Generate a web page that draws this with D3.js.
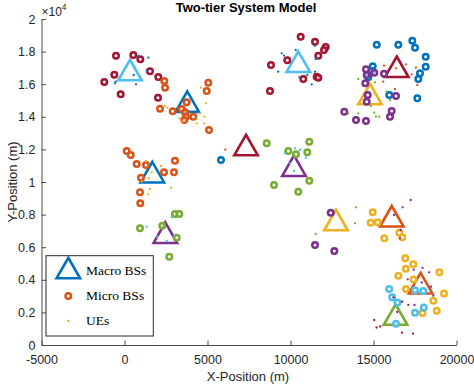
<!DOCTYPE html>
<html><head><meta charset="utf-8">
<script src="https://cdn.jsdelivr.net/npm/d3@7"></script>
<style>body{margin:0;background:#fff}svg{display:block}</style>
</head><body>
<svg id="chart" width="474" height="387"></svg>
<script>
// MATLAB default colour order
const palette = ["#0072BD","#D95319","#EDB120","#7E2F8E","#77AC30","#4DBEEE","#A2142F"];
const xTicks = [-5000,0,5000,10000,15000,20000];
const yTicks = [0,2000,4000,6000,8000,10000,12000,14000,16000,18000,20000];
const legendLabels = ["Macro BSs","Micro BSs","UEs"];

// [x, y, colour index]
const macroBS = [
  [330,16870,5],[3780,14930,0],[10470,17380,5],[16400,17070,6],[14790,15400,2],
  [1675,10600,0],[7320,12270,6],[10210,11000,3],[2460,6890,3],[12740,7670,2],
  [16100,7900,1],[17840,3790,1],[16330,1870,4]
];
const microBS = [
  // cell 1
  [-512,17749,6],[530,17792,6],[952,17528,6],[-614,16583,6],[-1217,16135,6],[-229,15381,6],[1536,16792,6],[2036,16442,6],[2018,15172,6],
  // cell 2
  [2398,16197,1],[2440,15786,1],[5048,16092,1],[4952,15583,1],[3747,14890,1],[2139,14497,1],[2904,14338,1],[3446,14479,1],[3645,14276,1],[3705,14006,1],[3602,13804,1],[4145,14006,1],[5090,13190,1],
  // cell 3
  [10614,18914,6],[11476,18608,6],[12120,18283,6],[12018,18098,6],[11675,17749,6],[9807,17467,6],[8825,17178,6],[10771,16319,6],[11578,16460,6],[11675,16399,6],[8765,15583,6],
  // cell 4
  [15193,18424,0],[16494,18424,0],[17337,18669,0],[17500,18240,0],[18145,17688,0],[18145,17074,0],[17801,16669,0],[17699,16319,0],[14952,17098,0],[14892,16810,0],[14687,16424,0],[15952,15338,0],[17639,15135,0],
  // cell 5
  [14548,16914,3],[14590,16565,3],[15048,16706,3],[15633,16645,3],[14506,16056,3],[14651,15338,3],[14590,14927,3],[16355,15276,3],[13241,14313,3],[16096,14356,3],[15994,14006,3],[13946,13804,3],[14548,13743,3],
  // cell 6
  [132,11902,1],[374,11657,1],[735,11105,1],[1295,11043,1],[3042,11307,1],[2380,10595,1],[2982,10595,1],[994,10264,1],[934,9368,1],[952,8694,1],
  // cell 7
  [5813,11350,0],
  // cell 8
  [8566,12375,4],[11133,12473,4],[9868,11902,4],[10331,11700,4],[11012,11822,4],[9006,9816,4],[11133,10080,4],[10470,9405,4],
  // cell 9
  [3042,8037,4],[3301,8037,4],[934,7159,4],[2277,7319,4],[3145,6583,4],[2699,5417,4],
  // cell 10
  [12422,8117,3],[11476,6135,3],[12639,5767,3],
  // cell 11
  [14952,8141,2],[14831,7503,2],[15253,7528,2],[16554,6890,2],[16735,6608,2],[15651,6546,2],
  // cell 12
  [16916,5319,2],[17398,4957,2],[16946,4675,2],[18964,4460,2],[16494,4252,2],[17410,4012,2],[16958,3436,2],[19247,3160,2],[18602,2718,2],[18807,2104,2],[17952,1963,2],
  // cell 13
  [15946,3436,5],[16127,2927,5],[16446,2608,5],[17500,3356,5],[17994,3313,5],[18030,2301,5],[17500,1982,5],[16355,1307,5]
];
const userEq = [
  [1434,17626,0],[831,17730,0],[554,16565,0],[693,15994,0],[-572,16056,0],[-530,16154,0],[1337,16810,0],
  [4608,15786,2],[4910,14829,2],[2440,14663,2],[2578,14559,2],[4548,14215,2],[4807,14006,2],[4349,13602,2],[4807,13602,2],[3301,13908,2],[3446,13700,2],
  [9470,17896,0],[9608,17749,0],[10313,18098,0],[11476,18362,0],[11518,17546,0],[9265,16767,0],[10530,16424,0],[11277,15994,0],[11476,16767,0],[11012,16565,0],
  [15633,17135,1],[16355,16976,1],[16958,17221,1],[17560,17013,1],[15590,16154,1],[16295,15706,1],[17639,15951,1],[17302,16608,1],
  [6073,11982,1],
  [14084,16319,4],[15090,16117,4],[15795,15540,4],[15994,15031,4],[14831,14663,4],[15048,14252,4],[15151,14006,4],[15349,14006,4],[13482,14215,4],[14084,14215,4],
  [1295,11289,2],[2199,10982,2],[1639,10595,2],[1476,10227,2],[1036,10019,2],[2801,9651,2],[1536,9571,2],[1434,9246,2],
  [9669,11761,5],[10271,12068,5],[10572,11963,5],[10934,11491,5],[9970,11147,5],[10211,10675,5],
  [2843,7835,5],[1337,7258,5],[3000,6706,5],[2542,6381,5],[1976,6644,5],
  [13946,8448,4],[13886,7467,4],[11518,6810,4],
  [17241,8896,3],[16759,8448,3],[16235,7976,3],[16639,7055,3],[16596,6546,3],
  [17952,4737,3],[18356,4460,3],[17422,4620,3],[17060,4031,3],[17904,3835,3],[18464,3577,3],[18602,3025,3],[17097,2454,3],[17470,2454,3],
  [15042,1534,6],[15181,1074,6],[15404,1135,6],[16717,755,6],[17380,694,6],[16434,2025,6],[16193,2927,6],[16717,2657,6]
];

const svg = d3.select("#chart");
const L = 41.5, R = 456.5, T = 19, B = 345;
const x = d3.scaleLinear().domain([-5000,20000]).range([L,R]);
const y = d3.scaleLinear().domain([0,20000]).range([B,T]);
const axisCol = "#4a4a4a", textCol = "#262626";
const font = "'Liberation Sans', Arial, Helvetica, sans-serif";

const tri = (w,h) => `M0,${-h/2}L${w/2},${h/2}L${-w/2},${h/2}Z`;
const TW = 23.5, TH = 20.5;
const MR = 2.75, MSW = 2.5;

// marks
const plot = svg.append("g");
plot.selectAll("path.macro").data(macroBS).join("path")
  .attr("class","macro")
  .attr("d", tri(TW,TH))
  .attr("transform", d => `translate(${x(d[0])},${y(d[1])})`)
  .attr("fill","none").attr("stroke", d => palette[d[2]])
  .attr("stroke-width",2.6).attr("stroke-linejoin","miter");
plot.selectAll("circle.micro").data(microBS).join("circle")
  .attr("class","micro")
  .attr("cx", d => x(d[0])).attr("cy", d => y(d[1])).attr("r",MR)
  .attr("fill","#fff").attr("fill-opacity",0.55)
  .attr("stroke", d => palette[d[2]]).attr("stroke-width",MSW);
plot.selectAll("circle.ue").data(userEq).join("circle")
  .attr("class","ue")
  .attr("cx", d => x(d[0])).attr("cy", d => y(d[1])).attr("r",1.15)
  .attr("fill", d => palette[d[2]]);

// axes
const xAxis = svg.append("g").attr("transform",`translate(0,${B})`)
  .call(d3.axisBottom(x).tickValues(xTicks).tickFormat(d => String(d))
        .tickSizeInner(-4.5).tickSizeOuter(0).tickPadding(10));
const yAxis = svg.append("g").attr("transform",`translate(${L},0)`)
  .call(d3.axisLeft(y).tickValues(yTicks).tickFormat(d => String(d/10000))
        .tickSizeInner(-4.5).tickSizeOuter(0).tickPadding(6));
[xAxis,yAxis].forEach(a => {
  a.select(".domain").attr("stroke",axisCol).attr("stroke-width",1);
  a.selectAll(".tick line").attr("stroke",axisCol).attr("stroke-width",1);
  a.selectAll(".tick text").attr("fill",textCol).attr("font-family",font).attr("font-size",12.5);
});
xAxis.selectAll(".tick text").attr("dy","0.72em");

// exponent
const ex = svg.append("text").attr("x",41.5).attr("y",15.5)
  .attr("font-family",font).attr("font-size",12).attr("fill",textCol);
ex.append("tspan").text("\u00d710");
ex.append("tspan").attr("font-size",8.5).attr("dy",-5.5).text("4");

// title & labels
svg.append("text").attr("x",246).attr("y",11.5).attr("text-anchor","middle")
  .attr("font-family",font).attr("font-weight","bold").attr("font-size",13)
  .attr("fill","#000").text("Two-tier System Model");
svg.append("text").attr("x",248).attr("y",381).attr("text-anchor","middle")
  .attr("font-family",font).attr("font-size",13).attr("fill",textCol).text("X-Position (m)");
svg.append("text").attr("transform","translate(16.5,182) rotate(-90)").attr("text-anchor","middle")
  .attr("font-family",font).attr("font-size",13).attr("fill",textCol).text("Y-Position (m)");

// legend
const lg = svg.append("g");
lg.append("rect").attr("x",46).attr("y",255.7).attr("width",107.3).attr("height",80.3)
  .attr("fill","#fff").attr("stroke","#262626").attr("stroke-width",1);
const rowsY = [268, 296, 321];
const textY = [274.5, 300, 324.8];
lg.append("path").attr("d",tri(TW,TH)).attr("transform",`translate(68.3,${rowsY[0]})`)
  .attr("fill","none").attr("stroke",palette[0]).attr("stroke-width",2.6);
lg.append("circle").attr("cx",68.3).attr("cy",rowsY[1]).attr("r",MR)
  .attr("fill","#fff").attr("fill-opacity",0.55).attr("stroke",palette[1]).attr("stroke-width",MSW);
lg.append("circle").attr("cx",68.3).attr("cy",rowsY[2]).attr("r",1.15).attr("fill",palette[2]);
lg.selectAll("text").data(legendLabels).join("text")
  .attr("x",86).attr("y",(d,i) => textY[i])
  .attr("font-family","'Liberation Serif','Times New Roman',serif").attr("font-size",13.5)
  .attr("fill","#000").text(d => d);
</script>
</body></html>
